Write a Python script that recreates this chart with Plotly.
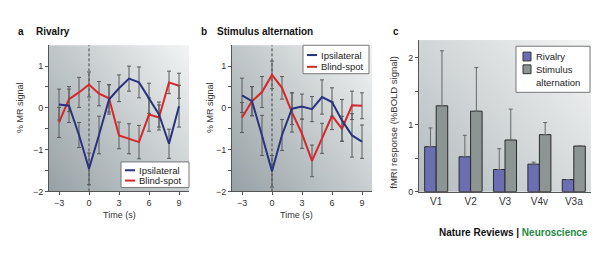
import zlib, struct, base64
import plotly.graph_objects as go

# ---------------- data ----------------
time_s = [-3, -2, -1, 0, 1, 2, 3, 4, 5, 6, 7, 8, 9]

riv_ipsi = [0.08, 0.05, -0.65, -1.46, -0.65, 0.20, 0.47, 0.70, 0.61, 0.23, -0.16, -0.86, 0.04]
riv_ipsi_err = [0.37, 0.40, 0.30, 0.38, 0.45, 0.35, 0.32, 0.30, 0.37, 0.36, 0.30, 0.35, 0.50]
riv_blind = [-0.35, 0.21, 0.37, 0.56, 0.34, 0.23, -0.66, -0.74, -0.82, -0.16, -0.23, 0.61, 0.53]
riv_blind_err = [0.36, 0.30, 0.36, 0.30, 0.29, 0.33, 0.32, 0.36, 0.40, 0.40, 0.30, 0.27, 0.30]

alt_ipsi = [0.30, 0.16, -0.66, -1.52, -0.65, -0.02, 0.03, -0.03, 0.26, 0.14, -0.30, -0.66, -0.81]
alt_ipsi_err = [0.41, 0.35, 0.48, 0.38, 0.37, 0.38, 0.30, 0.30, 0.41, 0.34, 0.50, 0.52, 0.40]
alt_blind = [-0.23, 0.16, 0.38, 0.79, 0.48, -0.11, -0.62, -1.27, -0.73, -0.19, -0.50, 0.06, 0.05]
alt_blind_err = [0.36, 0.35, 0.37, 0.33, 0.27, 0.47, 0.35, 0.38, 0.36, 0.33, 0.30, 0.34, 0.31]

areas = ["V1", "V2", "V3", "V4v", "V3a"]
bold_rivalry = [0.67, 0.52, 0.33, 0.41, 0.18]
bold_rivalry_err = [0.28, 0.32, 0.31, 0.03, 0.0]
bold_alternation = [1.28, 1.20, 0.77, 0.85, 0.68]
bold_alternation_err = [0.82, 0.65, 0.46, 0.18, 0.0]

time_ticks = [-3, 0, 3, 6, 9]
mr_ticks = [-2, -1.5, -1, -0.5, 0, 0.5, 1]
mr_ticktext = ["\u22122", "", "\u22121", "", "0", "", "1"]
bold_ticks = [0, 0.5, 1, 1.5, 2]
bold_ticktext = ["0", "", "1", "", "2"]

# ---------------- styling ----------------
BLUE = "#283380"
RED = "#d8262b"
RIV_COL = "#6b6fb2"
ALT_COL = "#8d9494"
ERR = "#5a5a5a"
AX = "#555555"
FONT = "Liberation Sans, Arial, sans-serif"


def png_uri(w, h, dark, light, wu=0.55, wv=0.45):
    rows = []
    for yy in range(h):
        v = 1 - yy / (h - 1)
        row = bytearray([0])
        for xx in range(w):
            u = xx / (w - 1)
            t = min(1.0, max(0.0, wu * u + wv * v))
            row += bytes(int(round(dark[k] + (light[k] - dark[k]) * t)) for k in range(3))
        rows.append(bytes(row))
    raw = b"".join(rows)

    def chunk(tag, data):
        c = struct.pack(">I", len(data)) + tag + data
        return c + struct.pack(">I", zlib.crc32(tag + data) & 0xFFFFFFFF)

    png = (b"\x89PNG\r\n\x1a\n" + chunk(b"IHDR", struct.pack(">IIBBBBB", w, h, 8, 2, 0, 0, 0))
           + chunk(b"IDAT", zlib.compress(raw)) + chunk(b"IEND", b""))
    return "data:image/png;base64," + base64.b64encode(png).decode()


W, H = 600, 256
dom_a = [41 / W, 181 / W]
dom_b = [224 / W, 364 / W]
dom_c = [411 / W, 583 / W]
ydom_ab = [1 - 187 / H, 1 - 38 / H]
ydom_c = [1 - 187.3 / H, 1 - 32.7 / H]


def px(x):
    return x / W


def py(y):
    return 1 - y / H


fig = go.Figure()


def line_trace(x, y, err, color, name, xa, ya):
    return go.Scatter(
        x=x, y=y, mode="lines", name=name, line=dict(color=color, width=2),
        error_y=dict(type="data", array=err, color=ERR, thickness=1, width=2),
        xaxis=xa, yaxis=ya, showlegend=False)


fig.add_trace(line_trace(time_s, riv_blind, riv_blind_err, RED, "Blind-spot", "x", "y"))
fig.add_trace(line_trace(time_s, riv_ipsi, riv_ipsi_err, BLUE, "Ipsilateral", "x", "y"))
fig.add_trace(line_trace(time_s, alt_blind, alt_blind_err, RED, "Blind-spot", "x2", "y2"))
fig.add_trace(line_trace(time_s, alt_ipsi, alt_ipsi_err, BLUE, "Ipsilateral", "x2", "y2"))

fig.add_trace(go.Bar(
    x=areas, y=bold_rivalry, name="Rivalry", xaxis="x3", yaxis="y3", showlegend=False,
    marker=dict(color=RIV_COL, line=dict(color="#2a2a3a", width=1)),
    error_y=dict(type="data", array=bold_rivalry_err, arrayminus=[0] * len(areas),
                 symmetric=False, color="#666666", thickness=1, width=2)))
fig.add_trace(go.Bar(
    x=areas, y=bold_alternation, name="Stimulus alternation", xaxis="x3", yaxis="y3",
    showlegend=False,
    marker=dict(color=ALT_COL, line=dict(color="#2a2a2a", width=1)),
    error_y=dict(type="data", array=bold_alternation_err, arrayminus=[0] * len(areas),
                 symmetric=False, color="#666666", thickness=1, width=2)))

tickfont = dict(family=FONT, size=9, color="#333333")


def time_axis(dom, anchor):
    return dict(domain=dom, anchor=anchor, range=[-4, 10], tickvals=time_ticks,
                ticktext=[("\u2212" + str(-t)) if t < 0 else str(t) for t in time_ticks],
                showgrid=False, zeroline=False, showline=True, linecolor=AX, linewidth=1,
                ticks="outside", ticklen=3, tickcolor=AX, tickfont=tickfont)


def mr_axis(anchor):
    return dict(domain=ydom_ab, anchor=anchor, range=[-2, 1.5], tickvals=mr_ticks,
                ticktext=mr_ticktext, showgrid=False, zeroline=False, showline=True,
                linecolor=AX, linewidth=1, ticks="outside", ticklen=3, tickcolor=AX,
                tickfont=tickfont)


fig.update_layout(
    width=W, height=H, autosize=False,
    margin=dict(l=0, r=0, t=0, b=0),
    paper_bgcolor="white", plot_bgcolor="rgba(0,0,0,0)",
    font=dict(family=FONT, size=9, color="#333333"),
    barmode="group", bargap=0.33, bargroupgap=0.0, showlegend=False,
    xaxis=time_axis(dom_a, "y"), yaxis=mr_axis("x"),
    xaxis2=time_axis(dom_b, "y2"), yaxis2=mr_axis("x2"),
    xaxis3=dict(domain=dom_c, anchor="y3", showgrid=False, showline=True, linecolor=AX,
                linewidth=1, ticks="", tickfont=dict(family=FONT, size=10, color="#333333")),
    yaxis3=dict(domain=ydom_c, anchor="x3", range=[0, 2.26], tickvals=bold_ticks,
                ticktext=bold_ticktext, showgrid=False, zeroline=False, showline=True,
                linecolor=AX, linewidth=1, ticks="outside", ticklen=3, tickcolor=AX,
                tickfont=tickfont),
)

# gradient backgrounds
img_ab = png_uri(48, 48, (152, 162, 166), (242, 244, 244))
img_c = png_uri(48, 48, (180, 188, 191), (244, 245, 245))
images = []
for dom, yd, src in [(dom_a, ydom_ab, img_ab), (dom_b, ydom_ab, img_ab), (dom_c, ydom_c, img_c)]:
    images.append(dict(source=src, xref="paper", yref="paper", x=dom[0], y=yd[1],
                       sizex=dom[1] - dom[0], sizey=yd[1] - yd[0], sizing="stretch",
                       xanchor="left", yanchor="top", layer="below"))
fig.update_layout(images=images)

shapes = []
# dashed stimulus-onset lines
for xr, yr in [("x", "y domain"), ("x2", "y2 domain")]:
    shapes.append(dict(type="line", xref=xr, yref=yr, x0=0, x1=0, y0=0, y1=1,
                       line=dict(color="#444444", width=1, dash="3px,2px"), layer="below"))

ann = []
leg_font = dict(family=FONT, size=9.5, color="#222222")


def line_legend(x0, y0, x1, y1, rows):
    shapes.append(dict(type="rect", xref="paper", yref="paper", x0=px(x0), x1=px(x1),
                       y0=py(y1), y1=py(y0), fillcolor="white",
                       line=dict(color="#777777", width=1), layer="above"))
    for yc, color, label in rows:
        shapes.append(dict(type="line", xref="paper", yref="paper", x0=px(x0 + 4),
                           x1=px(x0 + 14), y0=py(yc), y1=py(yc),
                           line=dict(color=color, width=2), layer="above"))
        ann.append(dict(x=px(x0 + 16), y=py(yc), xref="paper", yref="paper", text=label,
                        showarrow=False, xanchor="left", yanchor="middle", font=leg_font))


line_legend(113, 157, 181, 183, [(165.5, BLUE, "Ipsilateral"), (176, RED, "Blind-spot")])
line_legend(295, 38, 361, 67, [(48, BLUE, "Ipsilateral"), (60, RED, "Blind-spot")])

# bar legend (panel c)
shapes.append(dict(type="rect", xref="paper", yref="paper", x0=px(508), x1=px(582),
                   y0=py(86), y1=py(39), fillcolor="white",
                   line=dict(color="#777777", width=1), layer="above"))
for (ya, yb), col in [((45, 54), RIV_COL), ((58, 67), ALT_COL)]:
    shapes.append(dict(type="rect", xref="paper", yref="paper", x0=px(515), x1=px(523),
                       y0=py(yb), y1=py(ya), fillcolor=col,
                       line=dict(color="#333333", width=1), layer="above"))
for yc, label in [(49.5, "Rivalry"), (62.5, "Stimulus"), (75.5, "alternation")]:
    ann.append(dict(x=px(526), y=py(yc), xref="paper", yref="paper", text=label,
                    showarrow=False, xanchor="left", yanchor="middle", font=leg_font))

fig.update_layout(shapes=shapes)

title_font = dict(family=FONT, size=10, color="#111111")
for x, txt in [(8, "<b>a</b>"), (26, "<b>Rivalry</b>"), (191, "<b>b</b>"),
               (207, "<b>Stimulus alternation</b>"), (383, "<b>c</b>")]:
    ann.append(dict(x=px(x), y=py(24), xref="paper", yref="paper", text=txt,
                    showarrow=False, xanchor="left", yanchor="middle", font=title_font))
lab_font = dict(family=FONT, size=9, color="#333333")
for x in [12, 202]:
    ann.append(dict(x=px(x), y=py(102), xref="paper", yref="paper", text="% MR signal",
                    textangle=-90, showarrow=False, xanchor="center", yanchor="middle",
                    font=lab_font))
for x in [111, 288]:
    ann.append(dict(x=px(x), y=py(211), xref="paper", yref="paper", text="Time (s)",
                    showarrow=False, xanchor="center", yanchor="middle", font=lab_font))
ann.append(dict(x=px(386), y=py(117), xref="paper", yref="paper",
                text="fMRI response (%BOLD signal)", textangle=-90, showarrow=False,
                xanchor="center", yanchor="middle",
                font=dict(family=FONT, size=9.5, color="#333333")))
ann.append(dict(x=px(582), y=py(229), xref="paper", yref="paper",
                text="<b>Nature Reviews | </b><b><span style='color:#1d8a3e'>Neuroscience</span></b>",
                showarrow=False, xanchor="right", yanchor="middle",
                font=dict(family=FONT, size=10, color="#111111")))
fig.update_layout(annotations=ann)

fig.write_html("out.html")
